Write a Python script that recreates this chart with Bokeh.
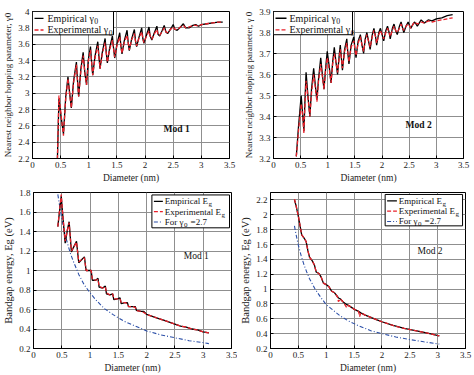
from bokeh.plotting import figure
from bokeh.layouts import column, row
from bokeh.models import FixedTicker, Label, BoxAnnotation, Arrow, Range1d
from bokeh.embed import file_html
from bokeh.resources import INLINE

# ---------------- DATA ----------------
x_ticks = [0, 0.5, 1, 1.5, 2, 2.5, 3, 3.5]
x_tick_labels = ["0", "0.5", "1", "1.5", "2", "2.5", "3", "3.5"]

y1_ticks = [2.2, 2.4, 2.6, 2.8, 3.0, 3.2, 3.4, 3.6, 3.8, 4.0]
y1_tick_labels = ["2.2", "2.4", "2.6", "2.8", "3", "3.2", "3.4", "3.6", "3.8", "4"]
y2_ticks = [3.2, 3.3, 3.4, 3.5, 3.6, 3.7, 3.8, 3.9]
y2_tick_labels = ["3.2", "3.3", "3.4", "3.5", "3.6", "3.7", "3.8", "3.9"]
y3_ticks = [0.2, 0.4, 0.6, 0.8, 1.0, 1.2, 1.4, 1.6, 1.8]
y3_tick_labels = ["0.2", "0.4", "0.6", "0.8", "1", "1.2", "1.4", "1.6", "1.8"]
y4_ticks = [0.2, 0.4, 0.6, 0.8, 1.0, 1.2, 1.4, 1.6, 1.8, 2.0, 2.2]
y4_tick_labels = ["0.2", "0.4", "0.6", "0.8", "1", "1.2", "1.4", "1.6", "1.8", "2", "2.2"]

# Mod 1: hopping parameter
d_mod1 = [0.44, 0.47, 0.51, 0.55, 0.59, 0.63, 0.66, 0.69, 0.73, 0.78, 0.80, 0.82, 0.86, 0.90,
          0.93, 0.96, 0.99, 1.03, 1.05, 1.07, 1.11, 1.16, 1.18, 1.20, 1.24, 1.29, 1.31, 1.33,
          1.37, 1.42, 1.44, 1.46, 1.50, 1.55, 1.57, 1.59, 1.63, 1.68, 1.70, 1.72, 1.76, 1.81,
          1.83, 1.85, 1.89, 1.94, 1.96, 1.98, 2.02, 2.07, 2.09, 2.12, 2.16, 2.21, 2.23, 2.26,
          2.30, 2.34, 2.37, 2.40, 2.45, 2.50, 2.53, 2.57, 2.63, 2.68, 2.72, 2.78, 2.85, 2.90,
          2.95, 3.00, 3.10, 3.20, 3.30, 3.38]
g_emp_mod1 = [2.12, 2.93, 2.70, 2.50, 2.95, 3.20, 3.00, 2.82, 3.15, 3.38, 3.15, 2.96, 3.30, 3.50,
              3.25, 3.10, 3.40, 3.57, 3.38, 3.22, 3.45, 3.63, 3.45, 3.30, 3.50, 3.67, 3.50, 3.37,
              3.55, 3.70, 3.55, 3.43, 3.60, 3.74, 3.58, 3.48, 3.64, 3.77, 3.62, 3.52, 3.66, 3.78,
              3.64, 3.57, 3.68, 3.80, 3.67, 3.61, 3.70, 3.81, 3.70, 3.65, 3.73, 3.82, 3.72, 3.70,
              3.76, 3.83, 3.75, 3.73, 3.78, 3.84, 3.78, 3.77, 3.81, 3.85, 3.80, 3.80, 3.83, 3.84,
              3.82, 3.84, 3.85, 3.86, 3.87, 3.87]
g_exp_mod1 = [2.12, 2.97, 2.72, 2.48, 2.93, 3.18, 2.99, 2.82, 3.13, 3.35, 3.15, 2.96, 3.28, 3.46,
              3.25, 3.10, 3.38, 3.53, 3.38, 3.22, 3.43, 3.58, 3.45, 3.30, 3.48, 3.62, 3.50, 3.38,
              3.53, 3.65, 3.55, 3.44, 3.58, 3.69, 3.58, 3.49, 3.62, 3.71, 3.62, 3.53, 3.65, 3.73,
              3.64, 3.58, 3.67, 3.75, 3.67, 3.62, 3.69, 3.76, 3.70, 3.66, 3.72, 3.78, 3.72, 3.71,
              3.75, 3.80, 3.75, 3.74, 3.78, 3.81, 3.78, 3.78, 3.81, 3.83, 3.80, 3.81, 3.83, 3.83,
              3.82, 3.84, 3.85, 3.86, 3.87, 3.87]

# Mod 2: hopping parameter
d_mod2 = [0.42, 0.46, 0.51, 0.54, 0.56, 0.58, 0.60, 0.64, 0.67, 0.70, 0.74, 0.77, 0.80, 0.83,
          0.87, 0.90, 0.93, 0.96, 0.99, 1.03, 1.06, 1.09, 1.12, 1.15, 1.18, 1.21, 1.23, 1.25,
          1.27, 1.31, 1.35, 1.37, 1.39, 1.43, 1.48, 1.50, 1.52, 1.56, 1.60, 1.63, 1.66, 1.69,
          1.72, 1.75, 1.78, 1.82, 1.85, 1.88, 1.90, 1.94, 1.97, 2.00, 2.03, 2.07, 2.10, 2.13,
          2.15, 2.19, 2.22, 2.25, 2.28, 2.32, 2.35, 2.38, 2.40, 2.44, 2.48, 2.51, 2.53, 2.57,
          2.60, 2.65, 2.72, 2.78, 2.85, 2.92, 3.00, 3.10, 3.20, 3.30]
g_emp_mod2 = [3.21, 3.35, 3.50, 3.40, 3.33, 3.48, 3.61, 3.48, 3.40, 3.53, 3.63, 3.55, 3.48, 3.58,
              3.68, 3.60, 3.53, 3.63, 3.71, 3.63, 3.56, 3.66, 3.73, 3.66, 3.60, 3.69, 3.74, 3.68,
              3.62, 3.72, 3.77, 3.70, 3.65, 3.74, 3.78, 3.72, 3.68, 3.76, 3.79, 3.74, 3.70, 3.77,
              3.80, 3.76, 3.72, 3.79, 3.82, 3.78, 3.74, 3.80, 3.82, 3.79, 3.76, 3.81, 3.83, 3.80,
              3.77, 3.82, 3.84, 3.81, 3.79, 3.83, 3.85, 3.82, 3.80, 3.83, 3.85, 3.83, 3.82, 3.84,
              3.85, 3.83, 3.86, 3.845, 3.86, 3.855, 3.865, 3.87, 3.88, 3.885]
g_exp_mod2 = [3.21, 3.33, 3.46, 3.40, 3.32, 3.46, 3.57, 3.48, 3.40, 3.51, 3.60, 3.54, 3.47, 3.57,
              3.65, 3.59, 3.53, 3.62, 3.68, 3.62, 3.56, 3.65, 3.70, 3.66, 3.61, 3.68, 3.72, 3.68,
              3.63, 3.71, 3.75, 3.70, 3.66, 3.73, 3.76, 3.72, 3.69, 3.75, 3.78, 3.74, 3.71, 3.76,
              3.79, 3.76, 3.73, 3.78, 3.81, 3.78, 3.75, 3.79, 3.81, 3.79, 3.77, 3.80, 3.82, 3.80,
              3.78, 3.81, 3.83, 3.81, 3.80, 3.82, 3.84, 3.82, 3.81, 3.83, 3.84, 3.83, 3.82, 3.84,
              3.85, 3.84, 3.85, 3.845, 3.855, 3.85, 3.855, 3.86, 3.865, 3.87]

# Mod 1: bandgap
d_eg1 = [0.43, 0.49, 0.52, 0.56, 0.60, 0.63, 0.67, 0.71, 0.76, 0.80, 0.85, 0.90, 0.93, 0.98,
         1.02, 1.04, 1.10, 1.14, 1.16, 1.22, 1.27, 1.29, 1.35, 1.40, 1.42, 1.48, 1.53, 1.55,
         1.62, 1.66, 1.68, 1.75, 1.80, 1.82, 1.90, 1.95, 2.00, 2.10, 2.20, 2.30, 2.40, 2.50,
         2.60, 2.70, 2.80, 2.90, 3.00, 3.10]
eg_emp_mod1 = [1.45, 1.76, 1.55, 1.28, 1.42, 1.50, 1.19, 1.24, 1.30, 1.08, 1.11, 1.14, 1.00, 1.00,
               1.00, 0.90, 0.90, 0.92, 0.83, 0.82, 0.84, 0.76, 0.75, 0.76, 0.70, 0.71, 0.72, 0.66,
               0.67, 0.67, 0.63, 0.63, 0.63, 0.59, 0.58, 0.58, 0.55, 0.53, 0.51, 0.49, 0.47, 0.45,
               0.43, 0.42, 0.40, 0.39, 0.37, 0.36]
eg_exp_mod1 = [1.45, 1.78, 1.55, 1.30, 1.42, 1.49, 1.20, 1.24, 1.29, 1.09, 1.11, 1.13, 1.00, 1.00,
               1.00, 0.91, 0.90, 0.91, 0.84, 0.82, 0.83, 0.77, 0.75, 0.76, 0.71, 0.71, 0.71, 0.67,
               0.67, 0.66, 0.63, 0.63, 0.62, 0.59, 0.58, 0.57, 0.55, 0.53, 0.51, 0.49, 0.47, 0.45,
               0.43, 0.42, 0.40, 0.39, 0.37, 0.36]
d_ref1 = [0.43, 0.46, 0.50, 0.55, 0.60, 0.65, 0.70, 0.80, 0.90, 1.00, 1.10, 1.25, 1.40, 1.60,
          1.80, 2.00, 2.25, 2.50, 2.75, 3.00, 3.10]
eg_ref_mod1 = [1.78, 1.67, 1.53, 1.39, 1.28, 1.18, 1.10, 0.96, 0.85, 0.77, 0.70, 0.61, 0.55, 0.48,
               0.43, 0.38, 0.34, 0.31, 0.28, 0.26, 0.25]

# Mod 2: bandgap
d_eg2 = [0.43, 0.46, 0.50, 0.53, 0.56, 0.60, 0.64, 0.67, 0.70, 0.75, 0.79, 0.82, 0.87, 0.91,
         0.95, 1.00, 1.05, 1.10, 1.15, 1.20, 1.22, 1.25, 1.30, 1.37, 1.40, 1.50, 1.58, 1.60,
         1.62, 1.70, 1.80, 1.90, 2.00, 2.20, 2.40, 2.60, 2.80, 3.03]
eg_emp_mod2 = [2.20, 2.12, 1.98, 1.85, 1.73, 1.69, 1.64, 1.52, 1.43, 1.38, 1.32, 1.23, 1.21, 1.16,
               1.08, 1.06, 1.03, 0.97, 0.95, 0.90, 0.88, 0.87, 0.83, 0.79, 0.78, 0.73, 0.70, 0.69,
               0.68, 0.65, 0.62, 0.59, 0.56, 0.51, 0.47, 0.44, 0.41, 0.37]
eg_exp_mod2 = [2.21, 2.12, 1.98, 1.86, 1.73, 1.69, 1.64, 1.52, 1.43, 1.38, 1.32, 1.23, 1.21, 1.16,
               1.08, 1.06, 1.03, 0.97, 0.95, 0.90, 0.83, 0.87, 0.83, 0.75, 0.78, 0.73, 0.70, 0.63,
               0.68, 0.65, 0.62, 0.59, 0.56, 0.51, 0.47, 0.44, 0.41, 0.37]
d_ref2 = [0.43, 0.46, 0.50, 0.55, 0.60, 0.65, 0.70, 0.80, 0.90, 1.00, 1.10, 1.25, 1.40, 1.60,
          1.80, 2.00, 2.25, 2.50, 2.75, 3.03]
eg_ref_mod2 = [1.85, 1.73, 1.59, 1.45, 1.33, 1.23, 1.14, 1.00, 0.89, 0.79, 0.73, 0.64, 0.57, 0.50,
               0.44, 0.40, 0.355, 0.32, 0.29, 0.26]

# ---------------- STYLE ----------------
FONT = "Liberation Serif"
BLACK = "#000000"
RED = "#e8202a"
BLUE = "#2b4fa8"
GRID = "#8f8f8f"

# Times-compatible advance widths (per 1000 em) used to place subscripts
TW = {'E': 611, 'm': 778, 'p': 500, 'i': 278, 'r': 333, 'c': 444, 'a': 444, 'l': 278,
      'x': 500, 'e': 444, 'n': 500, 't': 278, ' ': 250, 'F': 556, 'o': 500, 'γ': 440,
      '0': 500, 'g': 500, '=': 564, '2': 500, '.': 250, '7': 500}


def text_w(s, size):
    return sum(TW.get(ch, 500) for ch in s) * size / 1000.0


def make_fig(width, height, lb, rb, tb, bb, xr, yr, yt, ytl, ylabel, ylsize):
    p = figure(width=width, height=height, output_backend="svg", toolbar_location=None,
               x_range=Range1d(*xr), y_range=Range1d(*yr),
               min_border_left=lb, min_border_right=rb, min_border_top=tb, min_border_bottom=bb)
    p.outline_line_color = "black"
    p.outline_line_width = 1
    p.outline_line_alpha = 1
    p.xaxis.ticker = FixedTicker(ticks=x_ticks)
    p.xaxis.major_label_overrides = {t: l for t, l in zip(x_ticks, x_tick_labels)}
    p.yaxis.ticker = FixedTicker(ticks=yt)
    p.yaxis.major_label_overrides = {t: l for t, l in zip(yt, ytl)}
    for ax in (p.xaxis[0], p.yaxis[0]):
        ax.major_tick_in = 3
        ax.major_tick_out = 0
        ax.minor_tick_in = 0
        ax.minor_tick_out = 0
        ax.axis_line_color = "black"
        ax.major_tick_line_color = "black"
        ax.major_label_text_font = FONT
        ax.major_label_text_font_size = "9px"
        ax.major_label_text_color = "#222222"
        ax.axis_label_text_font = FONT
        ax.axis_label_text_font_style = "normal"
        ax.axis_label_text_color = "#222222"
        ax.major_label_standoff = 3
        ax.axis_label_standoff = 2
    p.xaxis.axis_label = "Diameter (nm)"
    p.xaxis.axis_label_text_font_size = "9.5px"
    p.yaxis.axis_label = ylabel
    p.yaxis.axis_label_text_font_size = ylsize
    p.xgrid.ticker = FixedTicker(ticks=x_ticks)
    p.ygrid.ticker = FixedTicker(ticks=yt)
    for g in (p.xgrid[0], p.ygrid[0]):
        g.grid_line_color = GRID
        g.grid_line_width = 1
        g.grid_line_alpha = 1
    p.background_fill_color = "white"
    p.border_fill_color = "white"
    return p


def add_legend(p, xr, yr, fw, fh, box, sample, text_x, font_px, entries):
    def X(r):
        return xr[0] + r / fw * (xr[1] - xr[0])

    def Y(r):
        return yr[1] - r / fh * (yr[1] - yr[0])

    p.add_layout(BoxAnnotation(left=X(box[0]), right=X(box[2]), top=Y(box[1]), bottom=Y(box[3]),
                               fill_color="white", fill_alpha=1, line_color="black",
                               line_width=1, line_alpha=1))
    sub_px = font_px * 0.78
    for (ry, main, sub, tail, color, dash, lw) in entries:
        p.add_layout(Arrow(x_start=X(sample[0]), y_start=Y(ry), x_end=X(sample[1]), y_end=Y(ry),
                           end=None, line_color=color, line_dash=dash, line_width=lw))
        p.add_layout(Label(x=X(text_x), y=Y(ry), text=main, text_font=FONT,
                           text_font_size=f"{font_px}px", text_baseline="middle",
                           text_align="left", text_color="#111111"))
        off = text_w(main, font_px) + 0.5
        p.add_layout(Label(x=X(text_x), y=Y(ry), x_offset=off, y_offset=-3, text=sub,
                           text_font=FONT, text_font_size=f"{sub_px:.1f}px",
                           text_baseline="middle", text_align="left", text_color="#111111"))
        if tail:
            off2 = off + text_w(sub, sub_px) + 3
            p.add_layout(Label(x=X(text_x), y=Y(ry), x_offset=off2, text=tail,
                               text_font=FONT, text_font_size=f"{font_px}px",
                               text_baseline="middle", text_align="left", text_color="#111111"))


def add_mod(p, xr, yr, fw, fh, rx, ry, text, size, style):
    p.add_layout(Label(x=xr[0] + rx / fw * (xr[1] - xr[0]), y=yr[1] - ry / fh * (yr[1] - yr[0]),
                       text=text, text_font=FONT, text_font_size=size, text_font_style=style,
                       text_baseline="middle", text_align="left", text_color="#111111"))


# ---------------- PANEL 1 ----------------
xr = (0, 3.5)
yr1 = (2.2, 4.0)
p1 = make_fig(237, 185, 32, 8, 11, 23, xr, yr1, y1_ticks, y1_tick_labels,
              "Nearest neighbor hopping parameter, γ0", "9px")
p1.line(d_mod1, g_emp_mod1, line_color=BLACK, line_width=1.3)
p1.line(d_mod1, g_exp_mod1, line_color=RED, line_width=1.3, line_dash="4 2")
add_legend(p1, xr, yr1, 197, 151, (0, 0, 81, 24), (2, 11), 15, 10,
           [(7, "Empirical γ", "0", "", BLACK, "solid", 1.3),
            (19, "Experimental γ", "0", "", RED, "4 2", 1.3)])
add_mod(p1, xr, yr1, 197, 151, 131, 121, "Mod 1", "9.5px", "bold")

# ---------------- PANEL 2 ----------------
yr2 = (3.2, 3.9)
p2 = make_fig(237, 185, 36, 11, 11, 22, xr, yr2, y2_ticks, y2_tick_labels,
              "Nearest neighbor hopping parameter, γ 0", "9px")
p2.line(d_mod2, g_emp_mod2, line_color=BLACK, line_width=1.3)
p2.line(d_mod2, g_exp_mod2, line_color=RED, line_width=1.3, line_dash="4 2")
add_legend(p2, xr, yr2, 190, 152, (0, 0, 79, 24), (2, 13), 16, 10,
           [(7, "Empirical γ", "0", "", BLACK, "solid", 1.3),
            (19, "Experimental γ", "0", "", RED, "4 2", 1.3)])
add_mod(p2, xr, yr2, 190, 152, 132, 117, "Mod 2", "9.5px", "bold")

# ---------------- PANEL 3 ----------------
yr3 = (0.2, 1.8)
p3 = make_fig(237, 190, 32, 6, 7, 24, xr, yr3, y3_ticks, y3_tick_labels,
              "Bandgap energy, Eg (eV)", "10.5px")
p3.line(d_ref1, eg_ref_mod1, line_color=BLUE, line_width=1.1, line_dash="4 2 1 2")
p3.line(d_eg1, eg_emp_mod1, line_color=BLACK, line_width=1.3)
p3.line(d_eg1, eg_exp_mod1, line_color=RED, line_width=1.3, line_dash="4 2")
add_legend(p3, xr, yr3, 199, 159, (119, 2.5, 197, 36), (121, 130), 132, 9,
           [(9, "Empirical E", "g", "", BLACK, "solid", 1.3),
            (19.5, "Experimental E", "g", "", RED, "4 2", 1.3),
            (30, "For γ", "0", "=2.7", BLUE, "4 2 1 2", 1.1)])
add_mod(p3, xr, yr3, 199, 159, 151, 65, "Mod 1", "9.5px", "normal")

# ---------------- PANEL 4 ----------------
yr4 = (0.2, 2.3)
p4 = make_fig(237, 190, 29, 9, 7, 24, xr, yr4, y4_ticks, y4_tick_labels,
              "Bandgap energy, Eg (eV)", "10.5px")
p4.line(d_ref2, eg_ref_mod2, line_color=BLUE, line_width=1.1, line_dash="4 2 1 2")
p4.line(d_eg2, eg_emp_mod2, line_color=BLACK, line_width=1.3)
p4.line(d_eg2, eg_exp_mod2, line_color=RED, line_width=1.3, line_dash="4 2")
add_legend(p4, xr, yr4, 199, 159, (117, 2, 196, 34), (119, 129), 131, 9,
           [(8.5, "Empirical E", "g", "", BLACK, "solid", 1.3),
            (19, "Experimental E", "g", "", RED, "4 2", 1.3),
            (29.5, "For γ", "0", "=2.7", BLUE, "4 2 1 2", 1.1)])
add_mod(p4, xr, yr4, 199, 159, 150, 60, "Mod 2", "9.5px", "normal")

layout = column(row(p1, p2), row(p3, p4))
open("out.html", "w").write(file_html(layout, INLINE))
